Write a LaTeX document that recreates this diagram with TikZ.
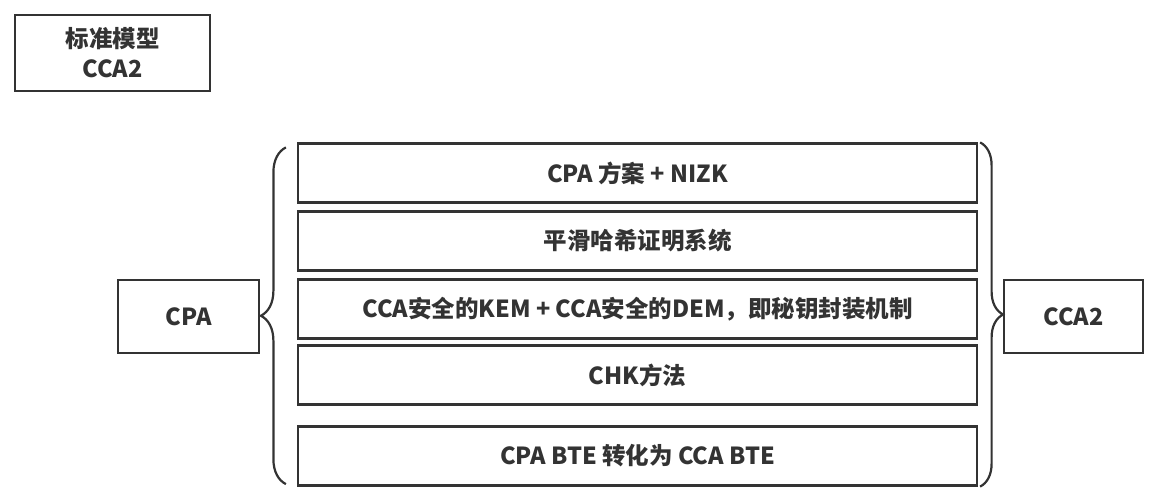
\documentclass[tikz,border=0pt]{standalone}
\usepackage{fontspec}
\setmainfont{Noto Sans CJK SC}
\usetikzlibrary{positioning,decorations.pathreplacing}
\definecolor{ink}{HTML}{333333}

\begin{document}
\begin{tikzpicture}[x=1pt,y=-1pt,node distance=68pt,line width=2.2pt,
	font=\fontsize{23.5}{30}\selectfont\bfseries,text=ink,
	box/.style={draw=ink,rectangle,minimum width=679pt,minimum height=59pt,inner sep=0pt},
	side/.style={draw=ink,rectangle,minimum width=141pt,minimum height=73pt,inner sep=0pt},
	curly/.style={draw=ink,decorate,decoration={brace,amplitude=#1}}]

\useasboundingbox (0,0) rectangle (1157,499);

\node[draw=ink,minimum width=195pt,minimum height=76pt,align=center,inner sep=0pt](model) at (112.5,53){标准模型\\CCA2};

\node[box](b1) at (637.5,173){CPA 方案 + NIZK};
\node[box](b2)[below of=b1]{平滑哈希证明系统};
\node[box](b3)[below of=b2]{CCA安全的KEM + CCA安全的DEM，即秘钥封装机制};
\node[box](b4)[below of=b3,yshift=2pt]{CHK方法};
\node[box](b5)[below of=b4,yshift=-13pt]{CPA BTE 转化为 CCA BTE};

\node[side](cpa) at (188.5,316.5){CPA};
\node[side,minimum width=139pt](cca) at (1073.5,316.5){CCA2};

\draw[curly=25pt]([xshift=-11pt,yshift=2.5pt]b5.south west)--([xshift=-11pt,yshift=-5pt]b1.north west);
\draw[curly=23pt]([xshift=2pt]b1.north east)--([xshift=2pt]b5.south east);

\end{tikzpicture}
\end{document}
